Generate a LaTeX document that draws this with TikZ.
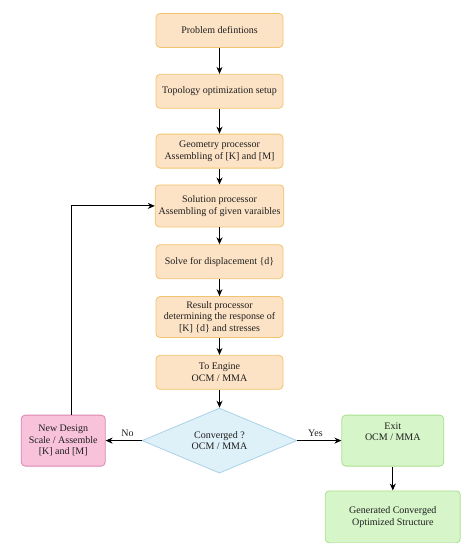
\documentclass[tikz,border=0pt]{standalone}
\usepackage{fontspec}
\setmainfont{Liberation Serif}
\usepackage{xcolor}
\usetikzlibrary{shapes.geometric, arrows.meta, positioning}

\definecolor{orfill}{HTML}{FDE3C6}
\definecolor{orline}{HTML}{F2C46E}
\definecolor{pkfill}{HTML}{F8C3DA}
\definecolor{pkline}{HTML}{DE85AE}
\definecolor{blfill}{HTML}{DEF0F8}
\definecolor{blline}{HTML}{A9D2E8}
\definecolor{grfill}{HTML}{D6F5C8}
\definecolor{grline}{HTML}{A9E08E}
\definecolor{txt}{HTML}{1E1E1E}

\begin{document}
\begin{tikzpicture}[
    node distance = 17pt and 36pt,
    box/.style     = {draw=orline, fill=orfill, rounded corners=4pt, line width=0.8pt,
                      minimum width=127pt, minimum height=34pt, align=center,
                      text=txt, font=\fontsize{10}{11.7}\selectfont},
    newbox/.style  = {box, draw=pkline, fill=pkfill, minimum width=84pt, minimum height=51pt},
    exitbox/.style = {box, draw=grline, fill=grfill, minimum width=102pt, minimum height=51pt},
    decide/.style  = {diamond, draw=blline, fill=blfill, line width=0.8pt, aspect=2.38,
                      inner sep=0pt, minimum width=155pt, minimum height=65pt,
                      align=center, text=txt, font=\fontsize{10}{11.7}\selectfont},
    arr/.style     = {-{Stealth[length=7pt, width=6pt]}, line width=0.9pt, black},
]
\useasboundingbox (0,0) rectangle (474pt,-543pt);

%% -- Main column ---------------------------------------------------------
\node[box] (probdef) at (219.5pt,-30.5pt) {Problem defintions};
\node[box, below=26pt of probdef]                   (toposetup) {Topology optimization setup};
\node[box, below=25pt of toposetup]                 (geomproc)  {Geometry processor\\Assembling of [K] and [M]};
\node[box, below=16pt of geomproc, minimum height=42pt] (solproc) {Solution processor\\Assembling of given varaibles};
\node[box, below=of solproc]                        (solvedisp) {Solve for displacement \{d\}};
\node[box, below=of solvedisp, minimum height=41pt] (resproc)   {Result processor\\determining the response of\\[0pt][K] \{d\} and stresses};
\node[box, below=of resproc]                        (engine)    {To Engine\\OCM / MMA};
\node[decide, below=18pt of engine]                 (converged) {Converged ?\\OCM / MMA};

%% -- Branches ------------------------------------------------------------
\node[newbox, left=36pt of converged]   (newdesign) {New Design\\Scale / Assemble\\[0pt][K] and [M]};
\node[exitbox, right=44pt of converged] (exitnode)  {Exit\\OCM / MMA\\[6pt]};
\node[exitbox, below=24pt of exitnode, minimum width=135pt, minimum height=52pt]
                                        (finalstruct) {Generated Converged\\Optimized Structure};

%% -- Arrows --------------------------------------------------------------
\draw[arr] (probdef)   -- (toposetup);
\draw[arr] (toposetup) -- (geomproc);
\draw[arr] (geomproc)  -- (solproc);
\draw[arr] (solproc)   -- (solvedisp);
\draw[arr] (solvedisp) -- (resproc);
\draw[arr] (resproc)   -- (engine);
\draw[arr] (engine)    -- (converged);

\draw[arr] (converged) -- (newdesign)
    node[midway, above, xshift=4pt, text=txt, font=\fontsize{10}{12}\selectfont] {No};
\draw[arr] (converged) -- (exitnode)
    node[midway, above, xshift=-4pt, text=txt, font=\fontsize{10}{12}\selectfont] {Yes};
\draw[arr] (exitnode)  -- (finalstruct);

%% -- Feedback loop -------------------------------------------------------
\draw[arr] ([xshift=8pt]newdesign.north) |- (solproc.west);

\end{tikzpicture}
\end{document}
